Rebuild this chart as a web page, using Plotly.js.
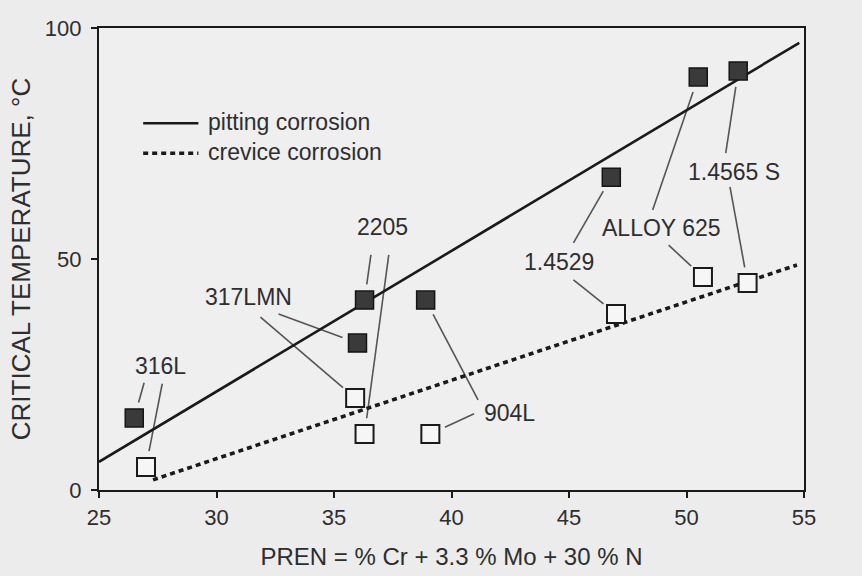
<!DOCTYPE html>
<html>
<head>
<meta charset="utf-8">
<script src="https://cdn.plot.ly/plotly-3.0.1.min.js"></script>
<style>
  html, body { margin: 0; padding: 0; background: #ececec; }
  #myDiv { width: 862px; height: 576px; }
</style>
</head>
<body>
<div id="myDiv"></div>
<script>

// Steel grades, same order in every array
var grades = ['316L', '317LMN', '2205', '904L', '1.4529', 'ALLOY 625', '1.4565 S'];

// critical pitting temperature (filled squares)
var prenPitting = [26.5, 36.0, 36.3, 38.9, 46.8, 50.5, 52.2];
var tempPitting = [15.6, 31.8, 41.1, 41.1, 67.7, 89.4, 90.7];

// critical crevice temperature (open squares)
var prenCrevice = [27.0, 35.9, 36.3, 39.1, 47.0, 50.7, 52.6];
var tempCrevice = [5.0, 19.9, 12.1, 12.1, 38.1, 46.1, 44.8];

// the two drawn trend lines
var pittingLineX = [25, 54.8];
var pittingLineY = [6.1, 96.8];
var creviceLineX = [27.3, 54.7];
var creviceLineY = [2.2, 48.7];

var xTicks = [25, 30, 35, 40, 45, 50, 55];
var yTicks = [0, 50, 100];

// where the grade names sit, and where their leader lines start
var labelSpec = {
	'316L':      {x: 27.6,  y: 26.8, pit: [26.92, 23.2], crev: [27.69, 23.0]},
	'317LMN':    {x: 31.36, y: 41.8, pit: [32.64, 38.1], crev: [31.87, 37.4]},
	'2205':      {x: 37.08, y: 56.9, pit: [36.57, 50.9], crev: [37.33, 50.9]},
	'904L':      {x: 42.46, y: 16.7, pit: [41.13, 19.5], crev: [40.96, 16.5]},
	'1.4529':    {x: 44.59, y: 49.4, pit: [45.19, 53.5], crev: [45.19, 45.5]},
	'ALLOY 625': {x: 48.94, y: 56.7, pit: [48.56, 60.6], crev: [49.24, 53.0]},
	'1.4565 S':  {x: 52.02, y: 68.8, pit: [51.67, 72.9], crev: [51.85, 65.6]}
};

var ink = '#1a1a1a';
var textColor = '#2e2e2e';
var font = 'Liberation Sans, Arial, sans-serif';

// plot box in pixels, used to stop leader lines short of the squares
var margin = {l: 99, r: 58, t: 28, b: 86};
var plotW = 862 - margin.l - margin.r;
var plotH = 576 - margin.t - margin.b;
var xRange = [25, 55];
var yRange = [0, 100];
var pxPerX = plotW / (xRange[1] - xRange[0]);
var pxPerY = plotH / (yRange[1] - yRange[0]);

function leader(start, px, py, gap) {
	var dx = (start[0] - px) * pxPerX;
	var dy = (start[1] - py) * pxPerY;
	var len = Math.sqrt(dx * dx + dy * dy);
	var ex = px + (dx / len) * gap / pxPerX;
	var ey = py + (dy / len) * gap / pxPerY;
	return {
		type: 'line', xref: 'x', yref: 'y', layer: 'below',
		x0: start[0], y0: start[1], x1: ex, y1: ey,
		line: {color: '#555555', width: 1.6}
	};
}

var shapes = [];
var annotations = [];

for (let i = 0; i < grades.length; i++) {
	var spec = labelSpec[grades[i]];
	shapes.push(leader(spec.pit, prenPitting[i], tempPitting[i], 16));
	shapes.push(leader(spec.crev, prenCrevice[i], tempCrevice[i], 16));
	annotations.push({
		x: spec.x, y: spec.y, xref: 'x', yref: 'y',
		text: grades[i], showarrow: false,
		xanchor: 'center', yanchor: 'middle',
		font: {family: font, size: 23, color: textColor}
	});
}

// hand-made key, the figure's key has long line samples
var keyItems = [
	{name: 'pitting corrosion', y: 79.4, dash: 'solid', width: 2.5},
	{name: 'crevice corrosion', y: 72.9, dash: '5px,4px', width: 3.5}
];
keyItems.forEach(function(k) {
	shapes.push({
		type: 'line', xref: 'x', yref: 'y',
		x0: 26.88, x1: 29.23, y0: k.y, y1: k.y,
		line: {color: ink, width: k.width, dash: k.dash}
	});
	annotations.push({
		x: 29.55, y: k.y + 0.3, xref: 'x', yref: 'y',
		text: k.name, showarrow: false,
		xanchor: 'left', yanchor: 'middle',
		font: {family: font, size: 23, color: textColor}
	});
});

var pittingLine = {
	x: pittingLineX, y: pittingLineY,
	mode: 'lines', type: 'scatter', hoverinfo: 'skip',
	line: {color: ink, width: 2.6}
};
var creviceLine = {
	x: creviceLineX, y: creviceLineY,
	mode: 'lines', type: 'scatter', hoverinfo: 'skip',
	line: {color: ink, width: 3.6, dash: '5px,4px'}
};
var pitting = {
	x: prenPitting, y: tempPitting, text: grades,
	mode: 'markers', type: 'scatter',
	marker: {symbol: 'square', size: 18, color: '#3a3a3a', line: {color: '#151515', width: 1.5}}
};
var crevice = {
	x: prenCrevice, y: tempCrevice, text: grades,
	mode: 'markers', type: 'scatter',
	marker: {symbol: 'square', size: 18, color: '#f6f6f6', line: {color: '#1a1a1a', width: 2}}
};

var axisCommon = {
	showgrid: false, zeroline: false,
	showline: true, mirror: true, linecolor: ink, linewidth: 2.2,
	ticks: 'outside', ticklen: 6, tickwidth: 2, tickcolor: ink,
	tickfont: {family: font, size: 22, color: textColor}
};

var layout = {
	width: 862, height: 576,
	margin: margin,
	paper_bgcolor: '#ececec',
	plot_bgcolor: '#efefef',
	showlegend: false,
	xaxis: Object.assign({}, axisCommon, {
		range: xRange, tickvals: xTicks,
		title: {text: 'PREN = % Cr + 3.3 % Mo + 30 % N', standoff: 20,
			font: {family: font, size: 24, color: textColor}}
	}),
	yaxis: Object.assign({}, axisCommon, {
		range: yRange, tickvals: yTicks, ticklabelstandoff: 5,
		title: {text: 'CRITICAL TEMPERATURE, °C', standoff: 7,
			font: {family: font, size: 26, color: textColor}}
	}),
	shapes: shapes,
	annotations: annotations
};

Plotly.newPlot('myDiv', [pittingLine, creviceLine, pitting, crevice], layout, {staticPlot: true});
</script>
</body>
</html>
